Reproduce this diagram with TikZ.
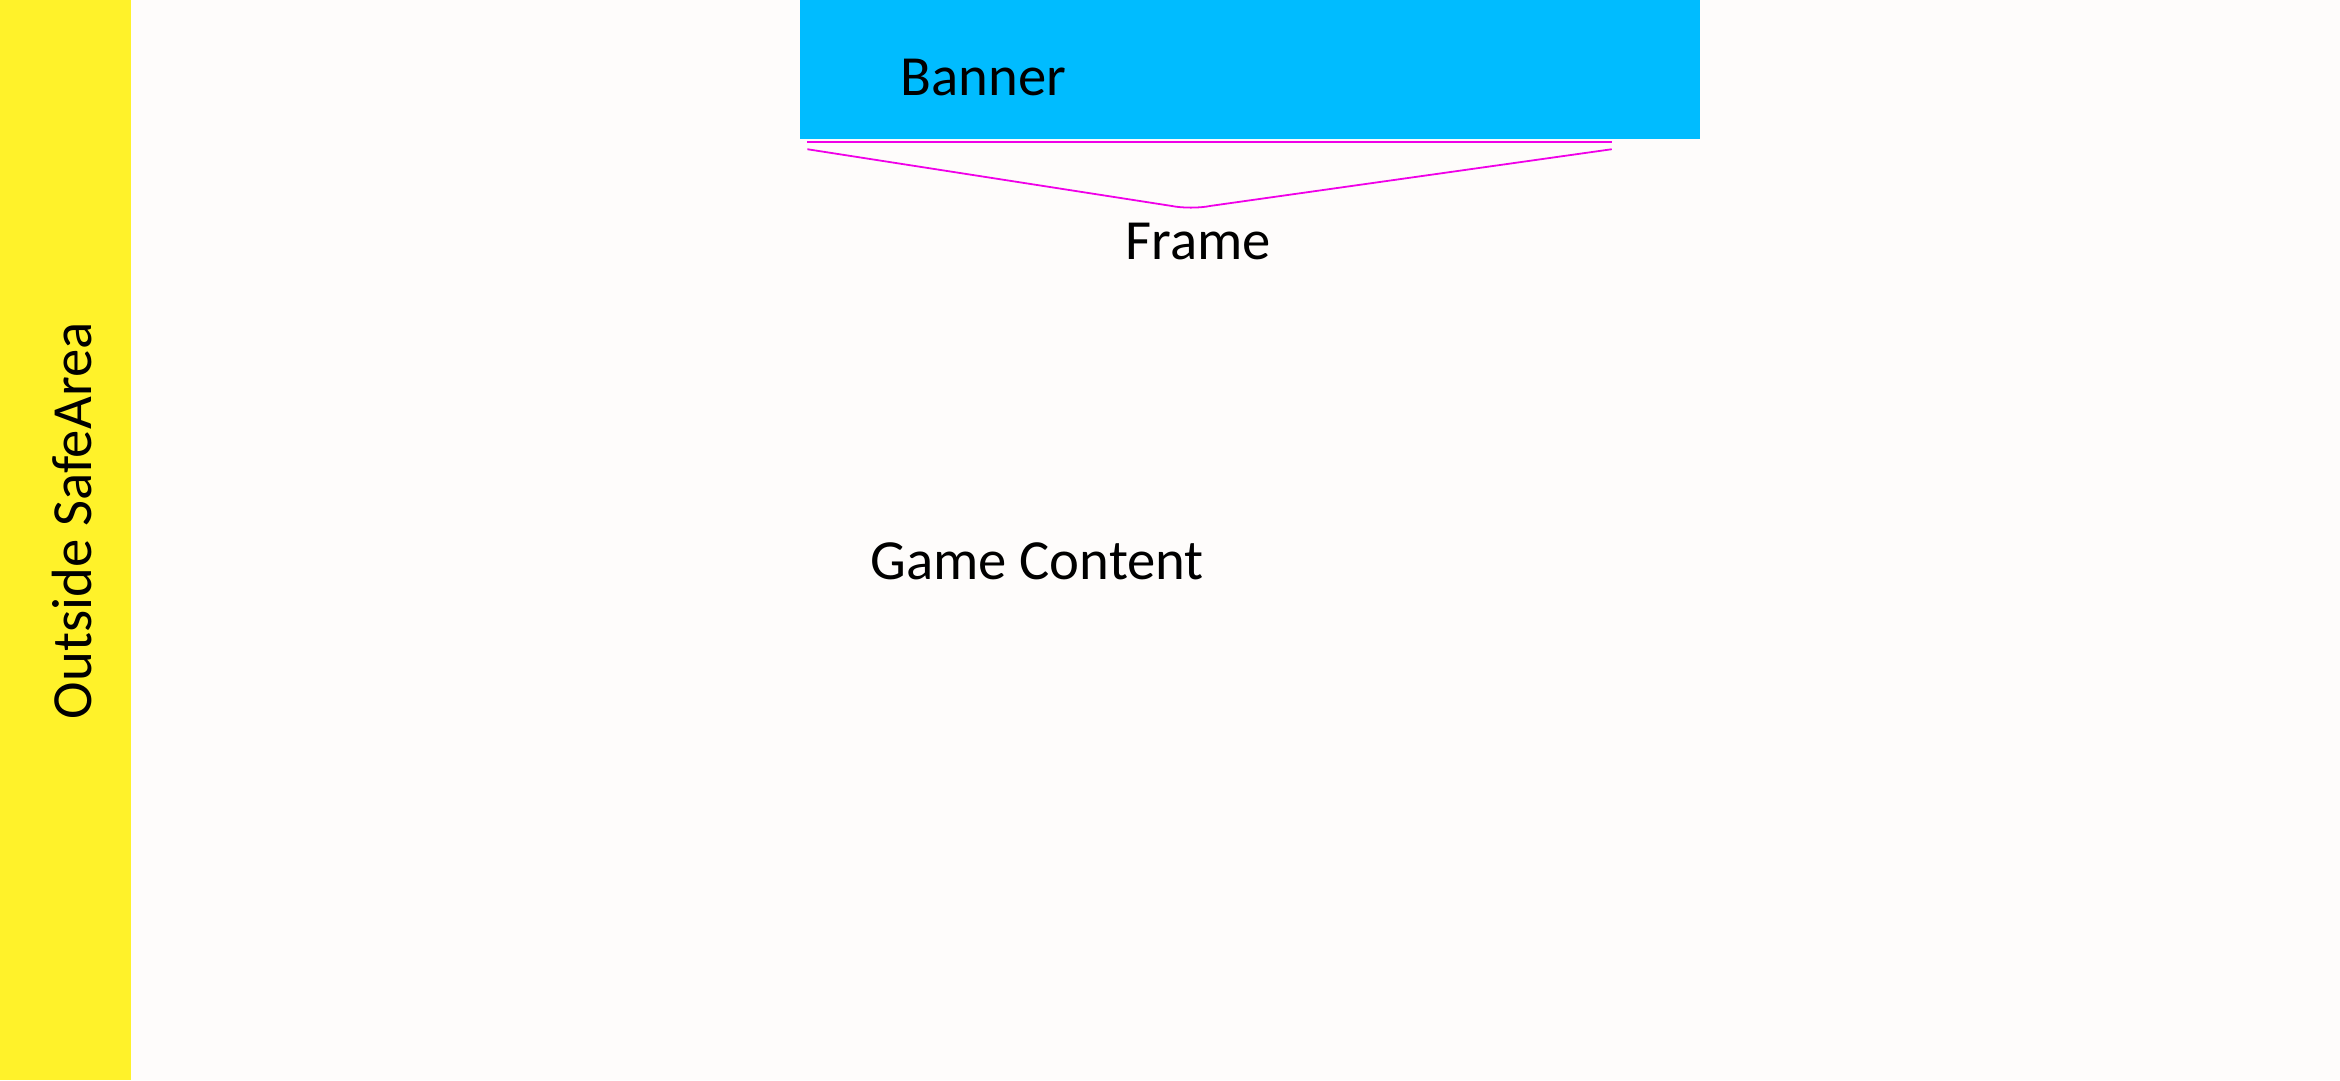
\documentclass[tikz,border=0pt]{standalone}
\usepackage{fontspec}
\setmainfont{Carlito}
\definecolor{bg}{HTML}{FEFCFB}
\definecolor{safey}{HTML}{FFF22A}
\definecolor{bann}{HTML}{00BCFF}
\definecolor{mag}{HTML}{F000E8}
\tikzset{lbl/.style={font=\fontsize{38}{44}\selectfont, text=black, inner sep=0pt}}
\begin{document}
\begin{tikzpicture}[x=1pt,y=1pt]
\fill[bg] (0,0) rectangle (1568,724);
\useasboundingbox (0,0) rectangle (1568,724);
\fill[safey] (0,0) rectangle (88,724);
\fill[bann] (536,631) rectangle (1139,724);
\node[lbl] (banner) at (659,672) {Banner};
\node[lbl, rotate=90] (outside) at (48,375) {Outside SafeArea};
\node[lbl] (game) at (695,348) {Game Content};
\draw[mag, line width=1.6pt] (541,629) -- (1080,629);
\coordinate (bl) at (541,624);
\coordinate (br) at (1080,624);
\coordinate (tip) at (798,584);
\draw[mag, line width=1.2pt] (bl) -- (785,586) .. controls (792,584.5) and (804,584.5) .. (811,586) -- (br);
\node[lbl] (frame) at (803,562) {Frame};
\end{tikzpicture}
\end{document}
